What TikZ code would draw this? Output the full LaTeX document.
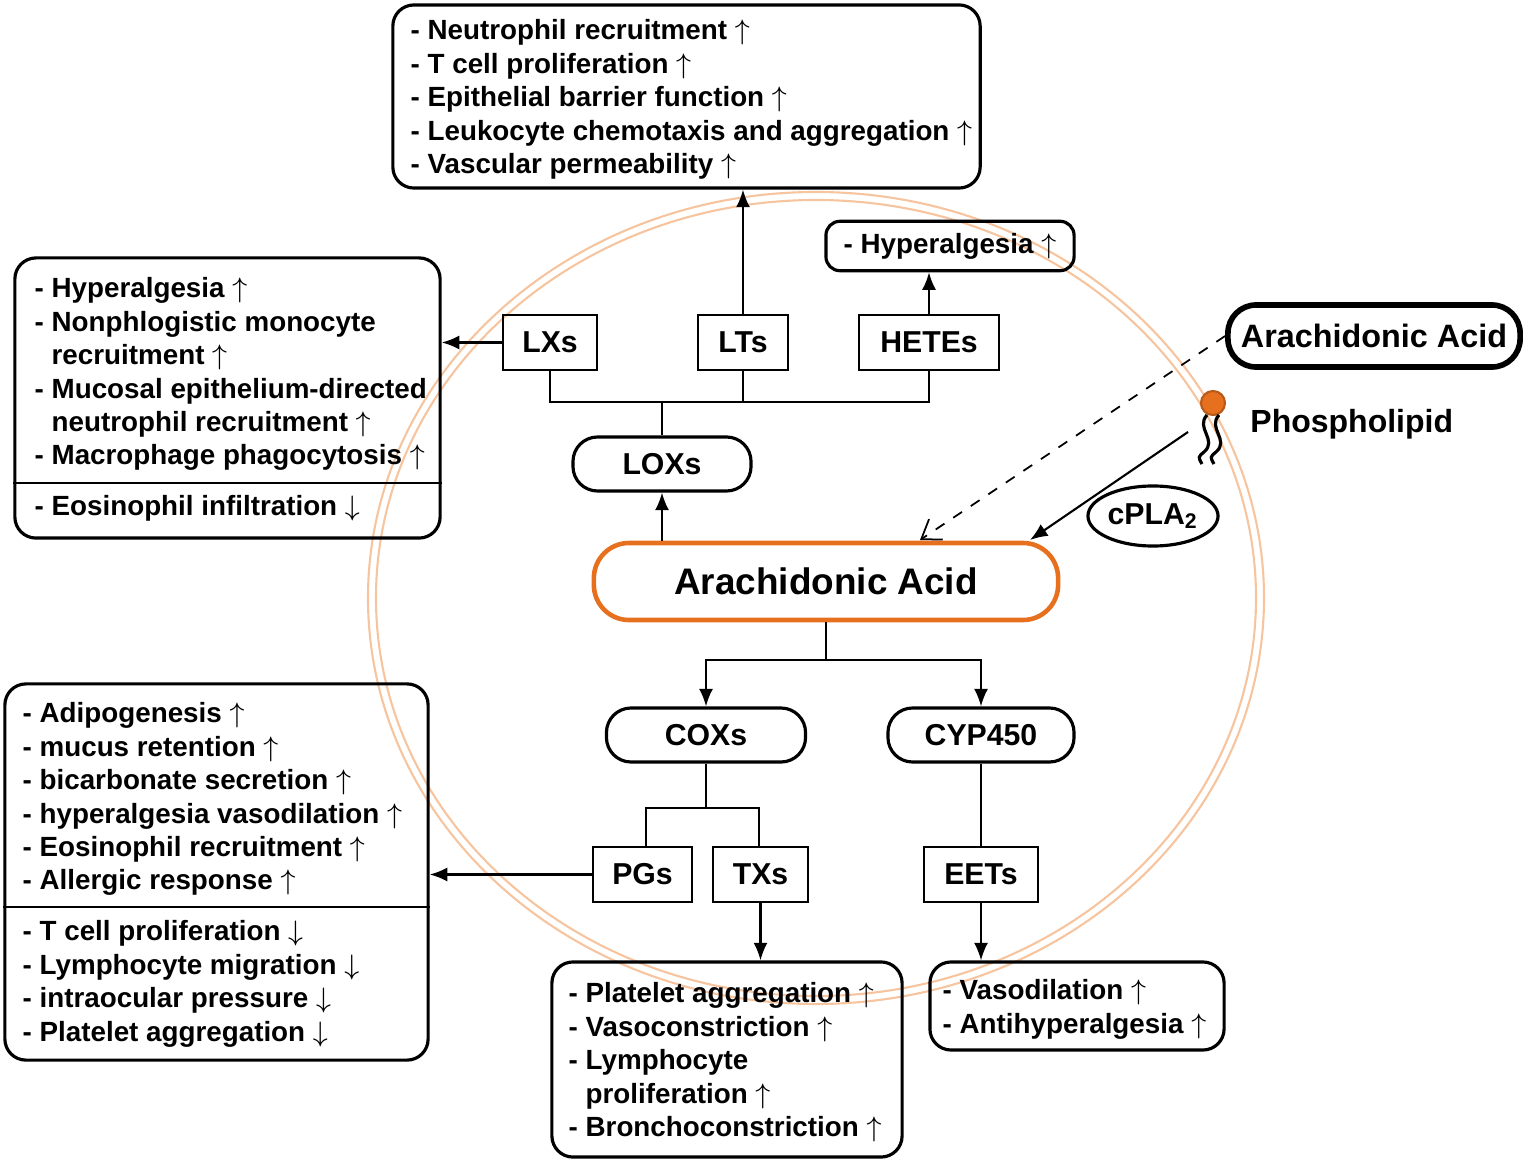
\documentclass[tikz,border=0pt]{standalone}
\usepackage{fontspec}
\setmainfont{Liberation Sans}
\usetikzlibrary{arrows.meta,shapes.geometric}
\definecolor{aaorange}{RGB}{230,112,30}
\definecolor{ringorange}{RGB}{246,196,158}
\tikzset{
  every node/.style={font=\bfseries\fontsize{7.9}{9.5}\selectfont},
  bigbox/.style={draw,line width=0.9pt,rounded corners=6pt},
  txt/.style={anchor=north west,align=left,inner sep=0pt},
  sq/.style={draw,line width=0.4pt,font=\bfseries\fontsize{8.6}{10}\selectfont},
  enz/.style={draw,line width=0.9pt,rounded corners=7pt,font=\bfseries\fontsize{8.6}{10}\selectfont},
  conn/.style={line width=0.6pt},
  arr/.style={conn,-{Latex[length=5pt,width=4pt]}}
}
\newcommand{\ind}{\phantom{- }}
\begin{document}
\begin{tikzpicture}[x=0.01cm,y=-0.01cm]
\useasboundingbox (0,0) rectangle (1524,1161);
% ring
\draw[ringorange,line width=0.6pt] (816,598) ellipse (448 and 406);
\draw[ringorange,line width=0.6pt] (816,598) ellipse (440 and 398);

% effect boxes
\node[bigbox,minimum width=5.87cm,minimum height=1.83cm] (topbox) at (686.5,96.5) {};
\node[txt] (toptxt) at (410,19) {- Neutrophil recruitment $\uparrow$\\- T cell proliferation $\uparrow$\\- Epithelial barrier function $\uparrow$\\- Leukocyte chemotaxis and aggregation $\uparrow$\\- Vascular permeability $\uparrow$};

\node[bigbox,minimum width=4.25cm,minimum height=2.8cm] (lxbox) at (227.5,398) {};
\node[txt] (lxtxt) at (34,277) {- Hyperalgesia $\uparrow$\\- Nonphlogistic monocyte\\\ind recruitment $\uparrow$\\- Mucosal epithelium-directed\\\ind neutrophil recruitment $\uparrow$\\- Macrophage phagocytosis $\uparrow$};
\draw[line width=0.4pt] (lxbox.west|-0,483) -- (lxbox.east|-0,483);
\node[txt] (lxtxt2) at (34,495) {- Eosinophil infiltration $\downarrow$};

\node[bigbox,minimum width=4.23cm,minimum height=3.76cm] (pgbox) at (216.5,872) {};
\node[txt] (pgtxt) at (22,702) {- Adipogenesis $\uparrow$\\- mucus retention $\uparrow$\\- bicarbonate secretion $\uparrow$\\- hyperalgesia vasodilation $\uparrow$\\- Eosinophil recruitment $\uparrow$\\- Allergic response $\uparrow$};
\draw[line width=0.4pt] (pgbox.west|-0,907) -- (pgbox.east|-0,907);
\node[txt] (pgtxt2) at (22,920) {- T cell proliferation $\downarrow$\\- Lymphocyte migration $\downarrow$\\- intraocular pressure $\downarrow$\\- Platelet aggregation $\downarrow$};

\node[bigbox,minimum width=3.5cm,minimum height=1.95cm] (txbox) at (727,1059.5) {};
\node[txt] (txtxt) at (568,982) {- Platelet aggregation $\uparrow$\\- Vasoconstriction $\uparrow$\\- Lymphocyte\\\ind proliferation $\uparrow$\\- Bronchoconstriction $\uparrow$};

\node[bigbox,minimum width=2.94cm,minimum height=0.88cm] (eetbox) at (1077,1006) {};
\node[txt] (eettxt) at (942,979) {- Vasodilation $\uparrow$\\- Antihyperalgesia $\uparrow$};

\node[bigbox,rounded corners=4pt,minimum width=2.48cm,minimum height=0.48cm,align=left] (hetebox) at (950,246) {- Hyperalgesia $\uparrow$};

% arachidonic acid
\node[draw,line width=1.6pt,rounded corners=8pt,minimum width=2.92cm,minimum height=0.62cm,font=\bfseries\fontsize{9.2}{11}\selectfont] (aaright) at (1374,336) {Arachidonic Acid};
\node[draw=aaorange,line width=1.3pt,rounded corners=10pt,minimum width=4.64cm,minimum height=0.77cm,font=\bfseries\fontsize{10.5}{12}\selectfont] (aa) at (826,581.5) {Arachidonic Acid};

% enzymes
\node[enz,minimum width=1.78cm,minimum height=0.54cm] (lox) at (662,464) {LOXs};
\node[enz,minimum width=1.99cm,minimum height=0.54cm] (cox) at (706,735) {COXs};
\node[enz,minimum width=1.86cm,minimum height=0.54cm] (cyp) at (981,735) {CYP450};
\node[draw,ellipse,line width=0.9pt,inner sep=0pt,minimum width=1.3cm,minimum height=0.6cm,font=\bfseries\fontsize{8.6}{10}\selectfont] (cpla) at (1153,516) {cPLA\textsubscript{2}};

% metabolites
\node[sq,minimum width=0.94cm,minimum height=0.55cm] (lx) at (550,342.5) {LXs};
\node[sq,minimum width=0.9cm,minimum height=0.55cm] (lt) at (743,342.5) {LTs};
\node[sq,minimum width=1.4cm,minimum height=0.55cm] (hete) at (929,342.5) {HETEs};
\node[sq,minimum width=0.99cm,minimum height=0.55cm] (pg) at (642.5,874.5) {PGs};
\node[sq,minimum width=0.95cm,minimum height=0.55cm] (tx) at (760.5,874.5) {TXs};
\node[sq,minimum width=1.14cm,minimum height=0.55cm] (eet) at (981,874.5) {EETs};

% phospholipid
\coordinate (phead) at (1213,403);
\draw[aaorange!80!black,fill=aaorange,line width=0.6pt] (phead) circle (12);
\draw[line width=0.9pt] (1207,415) .. controls (1195,428) and (1218,440) .. (1204,452) .. controls (1198,457) .. (1202,464);
\draw[line width=0.9pt] (1219,415) .. controls (1207,428) and (1230,440) .. (1216,452) .. controls (1210,457) .. (1214,464);
\node[anchor=west,font=\bfseries\fontsize{9.1}{11}\selectfont] (plabel) at (1238,424) {Phospholipid};
\coordinate (ptail) at (1188,432);

% connectors
\coordinate (loxjoin) at (662,402);
\draw[arr] (aa.north-|lox) -- (lox.south);
\draw[conn] (lox.north) -- (loxjoin);
\draw[conn] (lx.south) |- (loxjoin) -| (hete.south);
\draw[conn] (lt.south) -- (lt.south|-loxjoin);
\draw[arr] (lt.north) -- (topbox.south-|lt);
\draw[arr] (hete.north) -- (hetebox.south-|hete);
\draw[arr] (lx.west) -- (lxbox.east|-lx);

\coordinate (aajoin) at (826,660);
\draw[conn] (aa.south) -- (aajoin);
\draw[arr] (aajoin) -| (cox.north);
\draw[arr] (aajoin) -| (cyp.north);

\coordinate (coxjoin) at (706,808);
\draw[conn] (cox.south) -- (coxjoin);
\draw[conn] (pg.north-|646,0) |- (coxjoin) -| (tx.north-|759,0);
\draw[arr] (pg.west) -- (pgbox.east|-pg);
\draw[arr] (tx.south) -- (txbox.north-|tx);
\draw[conn] (cyp.south) -- (eet.north);
\draw[arr] (eet.south) -- (eetbox.north-|eet);

\draw[conn,dashed,line width=0.5pt,-{Straight Barb[length=5pt,width=7pt]}] (aaright.west) -- (920,540);
\draw[arr] (ptail) -- (1030,540);
\end{tikzpicture}
\end{document}
